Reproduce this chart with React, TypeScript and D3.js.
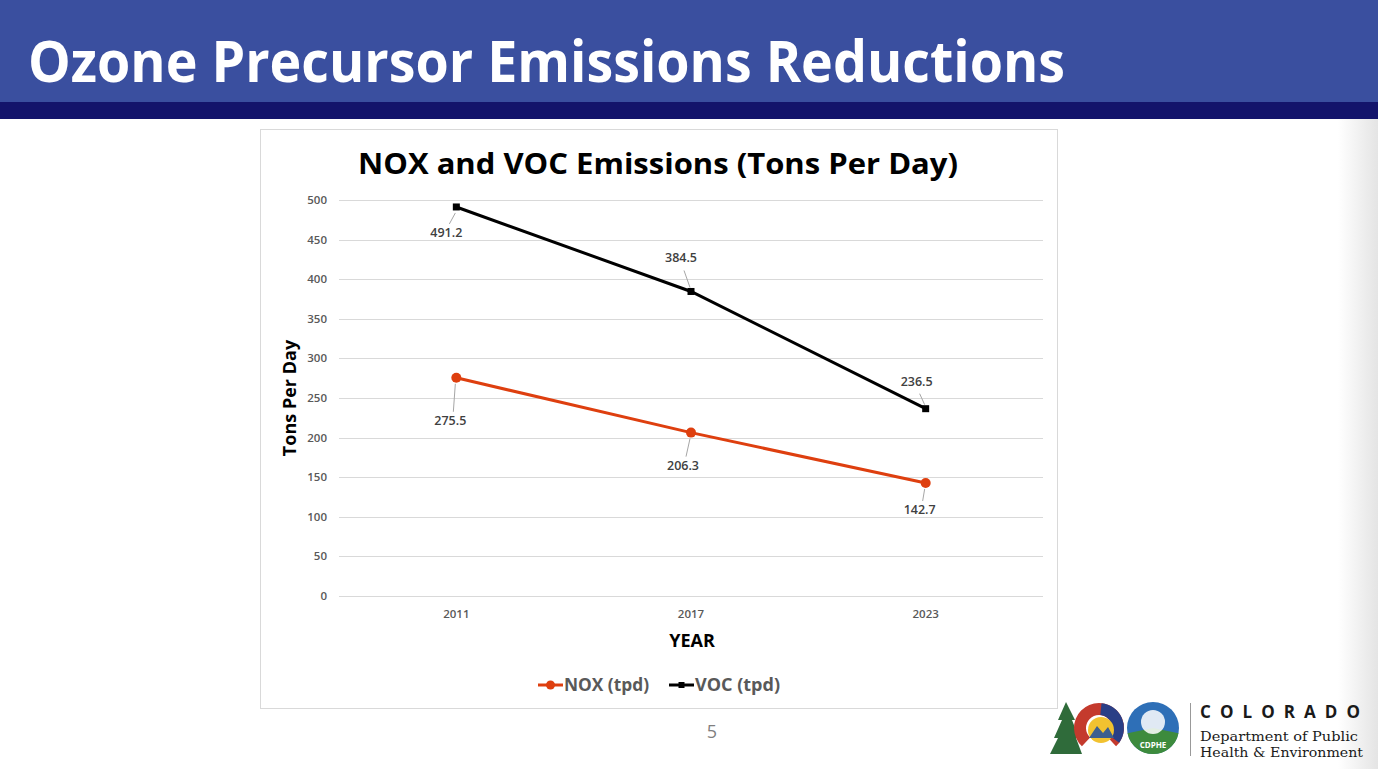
import * as d3 from 'd3';
import { useRef, useEffect } from 'react';

const years = ['2011', '2017', '2023'];
const noxValues = [275.5, 206.3, 142.7];
const vocValues = [491.2, 384.5, 236.5];
const yTicks = [0, 50, 100, 150, 200, 250, 300, 350, 400, 450, 500];

const FONT = '"Open Sans", "Noto Sans", sans-serif';

export default function App() {
  const svgRef = useRef(null);

  useEffect(() => {
    const width = 1378;
    const height = 769;
    const svg = d3.select(svgRef.current);
    svg.selectAll('*').remove();
    svg.attr('width', width).attr('height', height);

    // page background + right edge shading
    const defs = svg.append('defs');
    const grad = defs.append('linearGradient').attr('id', 'edge').attr('x1', 0).attr('x2', 1);
    grad.append('stop').attr('offset', 0).attr('stop-color', '#ffffff');
    grad.append('stop').attr('offset', 1).attr('stop-color', '#e4e4e4');
    svg.append('rect').attr('width', width).attr('height', height).attr('fill', '#fff');
    svg.append('rect').attr('x', 1338).attr('y', 119).attr('width', 40).attr('height', 650).attr('fill', 'url(#edge)');

    // header band
    svg.append('rect').attr('x', 0).attr('y', 0).attr('width', width).attr('height', 102).attr('fill', '#3a4f9f');
    svg.append('rect').attr('x', 0).attr('y', 102).attr('width', width).attr('height', 17).attr('fill', '#13146b');
    svg.append('text')
      .attr('x', 28).attr('y', 82)
      .attr('font-family', FONT).attr('font-weight', 700).attr('font-size', 58)
      .attr('fill', '#fff')
      .attr('textLength', 1037).attr('lengthAdjust', 'spacingAndGlyphs')
      .text('Ozone Precursor Emissions Reductions');

    // chart frame
    svg.append('rect').attr('x', 260.5).attr('y', 129.5).attr('width', 797).attr('height', 579)
      .attr('fill', '#fff').attr('stroke', '#d9d9d9');

    svg.append('text')
      .attr('x', 658).attr('y', 174)
      .attr('text-anchor', 'middle')
      .attr('font-family', FONT).attr('font-weight', 700).attr('font-size', 29)
      .attr('fill', '#000')
      .attr('textLength', 600).attr('lengthAdjust', 'spacingAndGlyphs')
      .text('NOX and VOC Emissions (Tons Per Day)');

    const x = d3.scalePoint().domain(years).range([339, 1043]).padding(0.5);
    const y = d3.scaleLinear().domain([0, 500]).range([596, 200]);

    // gridlines
    svg.append('g').selectAll('line').data(yTicks).enter().append('line')
      .attr('x1', 339).attr('x2', 1043)
      .attr('y1', (d) => Math.round(y(d)) + 0.5).attr('y2', (d) => Math.round(y(d)) + 0.5)
      .attr('stroke', '#d9d9d9').attr('stroke-width', 1);

    // y tick labels
    svg.append('g').selectAll('text').data(yTicks).enter().append('text')
      .attr('x', 327).attr('y', (d) => y(d) + 4)
      .attr('text-anchor', 'end')
      .attr('font-family', FONT).attr('font-size', 11.5).attr('font-weight', 600)
      .attr('fill', '#595959')
      .text((d) => d);

    // x tick labels
    svg.append('g').selectAll('text').data(years).enter().append('text')
      .attr('x', (d) => x(d)).attr('y', 618)
      .attr('text-anchor', 'middle')
      .attr('font-family', FONT).attr('font-size', 11.5).attr('font-weight', 600)
      .attr('fill', '#595959')
      .text((d) => d);

    // axis titles
    svg.append('text')
      .attr('x', 692).attr('y', 647)
      .attr('text-anchor', 'middle')
      .attr('font-family', FONT).attr('font-weight', 700).attr('font-size', 18)
      .attr('fill', '#000')
      .text('YEAR');
    svg.append('text')
      .attr('transform', 'translate(296, 398) rotate(-90)')
      .attr('text-anchor', 'middle')
      .attr('font-family', FONT).attr('font-weight', 700).attr('font-size', 18)
      .attr('fill', '#000')
      .text('Tons Per Day');

    const series = [
      { name: 'NOX (tpd)', values: noxValues, color: '#de3f0f', marker: 'circle',
        offsets: [[-6, 47], [-8, 37], [-6, 31]] },
      { name: 'VOC (tpd)', values: vocValues, color: '#000000', marker: 'square',
        offsets: [[-10, 30], [-10, -29], [-9, -23]] },
    ];

    const line = d3.line().x((d) => d[0]).y((d) => d[1]);

    series.forEach((s) => {
      const pts = s.values.map((v, i) => [x(years[i]), y(v)]);
      svg.append('path')
        .attr('d', line(pts))
        .attr('fill', 'none').attr('stroke', s.color).attr('stroke-width', 3);

      pts.forEach((p, i) => {
        const [dx, dy] = s.offsets[i];
        const lx = p[0] + dx;
        const ly = p[1] + dy;
        // leader line
        const y1 = dy > 0 ? ly - 13 : ly + 8;
        const y2 = dy > 0 ? p[1] + 6 : p[1] - 4;
        svg.append('line')
          .attr('x1', lx + 3).attr('y1', y1).attr('x2', p[0] - 1).attr('y2', y2)
          .attr('stroke', '#a6a6a6').attr('stroke-width', 1);
        svg.append('text')
          .attr('x', lx).attr('y', ly)
          .attr('text-anchor', 'middle')
          .attr('font-family', FONT).attr('font-size', 12.5).attr('font-weight', 600)
          .attr('fill', '#404040')
          .text(s.values[i]);

        if (s.marker === 'circle') {
          svg.append('circle').attr('cx', p[0]).attr('cy', p[1]).attr('r', 5).attr('fill', s.color);
        } else {
          svg.append('rect').attr('x', p[0] - 3.5).attr('y', p[1] - 3.5).attr('width', 7).attr('height', 7).attr('fill', s.color);
        }
      });
    });

    // legend
    const legendItems = [
      { s: series[0], x: 538 },
      { s: series[1], x: 669 },
    ];
    legendItems.forEach(({ s, x: lx }) => {
      const ly = 685;
      svg.append('line').attr('x1', lx).attr('x2', lx + 25).attr('y1', ly).attr('y2', ly)
        .attr('stroke', s.color).attr('stroke-width', 3);
      if (s.marker === 'circle') {
        svg.append('circle').attr('cx', lx + 12.5).attr('cy', ly).attr('r', 4.5).attr('fill', s.color);
      } else {
        svg.append('rect').attr('x', lx + 9.5).attr('y', ly - 3).attr('width', 6).attr('height', 6).attr('fill', s.color);
      }
      svg.append('text')
        .attr('x', lx + 26).attr('y', ly + 6)
        .attr('font-family', FONT).attr('font-weight', 700).attr('font-size', 17)
        .attr('fill', '#595959')
        .attr('textLength', 85).attr('lengthAdjust', 'spacingAndGlyphs')
        .text(s.name);
    });

    // page number
    svg.append('text')
      .attr('x', 712).attr('y', 738)
      .attr('text-anchor', 'middle')
      .attr('font-family', FONT).attr('font-size', 18)
      .attr('fill', '#7f7f7f')
      .text('5');

    // logo block
    const logo = svg.append('g');
    // tree
    logo.append('path')
      .attr('d', 'M1066,702 L1058,720 L1062,720 L1054,738 L1058,738 L1050,754 L1082,754 L1076,738 L1079,738 L1072,720 L1075,720 Z')
      .attr('fill', '#2f6b3a');
    // C emblem
    const arcC = d3.arc().innerRadius(13).outerRadius(25).startAngle(0.75).endAngle(2 * Math.PI - 0.75);
    logo.append('path').attr('d', arcC).attr('transform', 'translate(1099,728) rotate(180)').attr('fill', '#c43a2d');
    const arcBlue = d3.arc().innerRadius(13).outerRadius(25).startAngle(Math.PI + 0.1).endAngle(Math.PI * 1.7);
    logo.append('path').attr('d', arcBlue).attr('transform', 'translate(1099,728) rotate(180)').attr('fill', '#2a3f86');
    logo.append('circle').attr('cx', 1101).attr('cy', 730).attr('r', 13).attr('fill', '#f2c230');
    logo.append('path').attr('d', 'M1089,738 L1097,726 L1103,733 L1108,727 L1114,738 Z').attr('fill', '#3d5f8f');
    // CDPHE circle
    logo.append('circle').attr('cx', 1153).attr('cy', 728).attr('r', 26).attr('fill', '#2e6fb7');
    logo.append('path')
      .attr('d', d3.arc().innerRadius(0).outerRadius(26).startAngle(Math.PI / 2 + 0.2).endAngle(Math.PI * 1.5 - 0.2))
      .attr('transform', 'translate(1153,728)').attr('fill', '#3d8b3d');
    logo.append('circle').attr('cx', 1153).attr('cy', 722).attr('r', 12).attr('fill', '#ffffff').attr('opacity', 0.85);
    logo.append('text')
      .attr('x', 1153).attr('y', 748).attr('text-anchor', 'middle')
      .attr('font-family', FONT).attr('font-weight', 700).attr('font-size', 8).attr('fill', '#fff')
      .text('CDPHE');
    // divider
    logo.append('line').attr('x1', 1190.5).attr('x2', 1190.5).attr('y1', 703).attr('y2', 756).attr('stroke', '#999');
    logo.append('text')
      .attr('x', 1200).attr('y', 718)
      .attr('font-family', FONT).attr('font-weight', 700).attr('font-size', 17)
      .attr('fill', '#1a1a1a')
      .attr('textLength', 160).attr('lengthAdjust', 'spacing')
      .text('COLORADO');
    logo.append('text')
      .attr('x', 1200).attr('y', 741)
      .attr('font-family', '"DejaVu Serif", serif').attr('font-size', 13).attr('fill', '#1a1a1a')
      .attr('textLength', 158).attr('lengthAdjust', 'spacingAndGlyphs')
      .text('Department of Public');
    logo.append('text')
      .attr('x', 1200).attr('y', 757)
      .attr('font-family', '"DejaVu Serif", serif').attr('font-size', 13).attr('fill', '#1a1a1a')
      .attr('textLength', 163).attr('lengthAdjust', 'spacingAndGlyphs')
      .text('Health & Environment');
  }, []);

  return (
    <div style={{ position: 'absolute', left: 0, top: 0 }}>
      <svg ref={svgRef} style={{ display: 'block' }}></svg>
    </div>
  );
}
